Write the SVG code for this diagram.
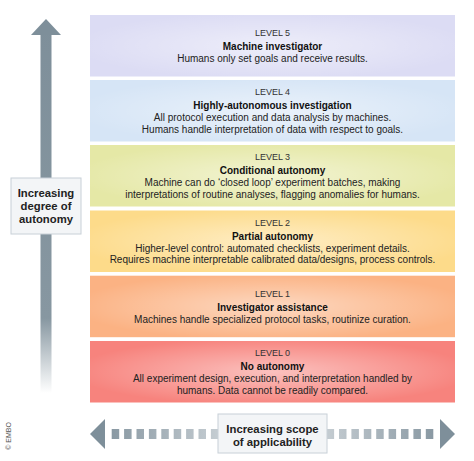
<svg xmlns="http://www.w3.org/2000/svg" width="474" height="461" viewBox="0 0 474 461">
  <defs>
    <radialGradient id="glow" cx="0.5" cy="0.5" r="0.55">
      <stop offset="0" stop-color="#ffffff" stop-opacity="0.5"/>
      <stop offset="1" stop-color="#ffffff" stop-opacity="0"/>
    </radialGradient>
    <linearGradient id="vfade" gradientUnits="userSpaceOnUse" x1="0" y1="19" x2="0" y2="393">
      <stop offset="0" stop-color="#7e8f9a"/>
      <stop offset="0.8" stop-color="#8797a1"/>
      <stop offset="1" stop-color="#ffffff"/>
    </linearGradient>
    <linearGradient id="hfade" gradientUnits="userSpaceOnUse" x1="90" y1="0" x2="455" y2="0">
      <stop offset="0" stop-color="#7e8f9a"/>
      <stop offset="0.5" stop-color="#e2e6e9"/>
      <stop offset="1" stop-color="#7e8f9a"/>
    </linearGradient>
  </defs>
  <style>
    .lvl { font-family: "Liberation Sans", Arial, sans-serif; font-size: 9px; fill: #333; text-anchor: middle; }
    .ttl { font-family: "Liberation Sans", Arial, sans-serif; font-size: 10px; font-weight: bold; fill: #111; text-anchor: middle; }
    .dsc { font-family: "Liberation Sans", Arial, sans-serif; font-size: 10px; fill: #222; text-anchor: middle; }
    .lab { font-family: "Liberation Sans", Arial, sans-serif; font-size: 11.3px; font-weight: bold; fill: #222; text-anchor: middle; }
    .labbox { fill: #f3f5f7; stroke: #c8d0d7; stroke-width: 1; }
    .glow { fill: url(#glow); }
    .sq { fill: url(#hfade); }
    .head { fill: #7e8f9a; }
  </style>
  <rect width="474" height="461" fill="#ffffff"/>

  <g id="connectors">
    <g id="vertical-arrow">
      <rect x="40.5" y="34" width="11" height="359" fill="url(#vfade)"/>
      <polygon class="head" points="46,19 61,35 31,35"/>
    </g>
    <g id="horizontal-arrow">
      <polygon class="head" points="90,434 105,419 105,449"/>
      <polygon class="head" points="455,434 440,419 440,449"/>
      <rect class="sq" x="111.7" y="429" width="7.5" height="10"/>
      <rect class="sq" x="124.1" y="429" width="7.5" height="10"/>
      <rect class="sq" x="136.5" y="429" width="7.5" height="10"/>
      <rect class="sq" x="148.9" y="429" width="7.5" height="10"/>
      <rect class="sq" x="161.3" y="429" width="7.5" height="10"/>
      <rect class="sq" x="173.7" y="429" width="7.5" height="10"/>
      <rect class="sq" x="186.1" y="429" width="7.5" height="10"/>
      <rect class="sq" x="198.5" y="429" width="7.5" height="10"/>
      <rect class="sq" x="210.9" y="429" width="7.5" height="10"/>
      <rect class="sq" x="326.6" y="429" width="7.5" height="10"/>
      <rect class="sq" x="339.0" y="429" width="7.5" height="10"/>
      <rect class="sq" x="351.4" y="429" width="7.5" height="10"/>
      <rect class="sq" x="363.8" y="429" width="7.5" height="10"/>
      <rect class="sq" x="376.2" y="429" width="7.5" height="10"/>
      <rect class="sq" x="388.6" y="429" width="7.5" height="10"/>
      <rect class="sq" x="401.0" y="429" width="7.5" height="10"/>
      <rect class="sq" x="413.4" y="429" width="7.5" height="10"/>
      <rect class="sq" x="425.8" y="429" width="7.5" height="10"/>
    </g>
  </g>

  <g id="label-autonomy">
    <rect class="labbox" x="11" y="178" width="70" height="56"/>
    <text class="lab" x="46" y="196.7">Increasing</text>
    <text class="lab" x="46" y="210">degree of</text>
    <text class="lab" x="46" y="223.3">autonomy</text>
  </g>

  <g id="label-scope">
    <rect class="labbox" x="218" y="414" width="109" height="39"/>
    <text class="lab" x="272.5" y="432.5">Increasing scope</text>
    <text class="lab" x="272.5" y="445.5">of applicability</text>
  </g>

  <g id="level5">
    <rect x="90" y="15" width="365" height="61.5" fill="#dcdcf4"/>
    <rect class="glow" x="90" y="15" width="365" height="61.5"/>
    <text class="lvl" x="272.5" y="36">LEVEL 5</text>
    <text class="ttl" x="272.5" y="50">Machine investigator</text>
    <text class="dsc" x="272.5" y="62">Humans only set goals and receive results.</text>
  </g>

  <g id="level4">
    <rect x="90" y="80" width="365" height="61.5" fill="#d6e5f6"/>
    <rect class="glow" x="90" y="80" width="365" height="61.5"/>
    <text class="lvl" x="272.5" y="95">LEVEL 4</text>
    <text class="ttl" x="272.5" y="109.3">Highly-autonomous investigation</text>
    <text class="dsc" x="272.5" y="121">All protocol execution and data analysis by machines.</text>
    <text class="dsc" x="272.5" y="132.5">Humans handle interpretation of data with respect to goals.</text>
  </g>

  <g id="level3">
    <rect x="90" y="145" width="365" height="61.5" fill="#e5e8a6"/>
    <rect class="glow" x="90" y="145" width="365" height="61.5"/>
    <text class="lvl" x="272.5" y="160">LEVEL 3</text>
    <text class="ttl" x="272.5" y="174.3">Conditional autonomy</text>
    <text class="dsc" x="272.5" y="186">Machine can do ‘closed loop’ experiment batches, making</text>
    <text class="dsc" x="272.5" y="197.5">interpretations of routine analyses, flagging anomalies for humans.</text>
  </g>

  <g id="level2">
    <rect x="90" y="210.5" width="365" height="61.5" fill="#fddb8a"/>
    <rect class="glow" x="90" y="210.5" width="365" height="61.5"/>
    <text class="lvl" x="272.5" y="225.5">LEVEL 2</text>
    <text class="ttl" x="272.5" y="239.8">Partial autonomy</text>
    <text class="dsc" x="272.5" y="251.5">Higher-level control: automated checklists, experiment details.</text>
    <text class="dsc" x="272.5" y="263">Requires machine interpretable calibrated data/designs, process controls.</text>
  </g>

  <g id="level1">
    <rect x="90" y="275.7" width="365" height="61.5" fill="#fbb283"/>
    <rect class="glow" x="90" y="275.7" width="365" height="61.5"/>
    <text class="lvl" x="272.5" y="296.5">LEVEL 1</text>
    <text class="ttl" x="272.5" y="310.5">Investigator assistance</text>
    <text class="dsc" x="272.5" y="322.5">Machines handle specialized protocol tasks, routinize curation.</text>
  </g>

  <g id="level0">
    <rect x="90" y="341" width="365" height="61.5" fill="#f7837d"/>
    <rect class="glow" x="90" y="341" width="365" height="61.5"/>
    <text class="lvl" x="272.5" y="356">LEVEL 0</text>
    <text class="ttl" x="272.5" y="370.3">No autonomy</text>
    <text class="dsc" x="272.5" y="382">All experiment design, execution, and interpretation handled by</text>
    <text class="dsc" x="272.5" y="393.5">humans. Data cannot be readily compared.</text>
  </g>

  <text x="11" y="436" transform="rotate(-90 11 436)" style="font-family: 'Liberation Sans', Arial, sans-serif; font-size: 7px; fill: #555; text-anchor: middle;">© EMBO</text>
</svg>
